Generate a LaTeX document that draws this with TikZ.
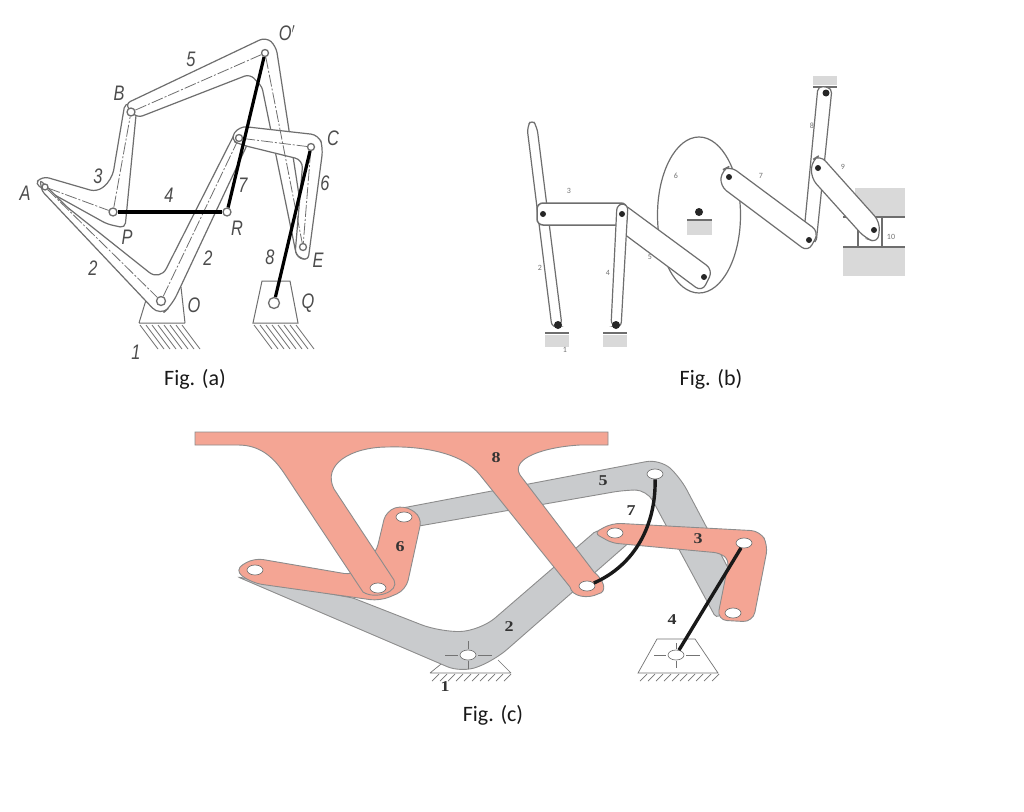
\documentclass[tikz,border=0pt]{standalone}
\usepackage{fontspec}
\setmainfont{Carlito}
\newfontfamily\skfont{Liberation Sans}
\newfontfamily\cfont{Liberation Serif}
\usepackage{xcolor}
\usepackage{tikz}
\usetikzlibrary{shapes.geometric}
\definecolor{linkgray}{HTML}{C9CBCD}
\definecolor{linksalmon}{HTML}{F4A594}
\definecolor{edgegray}{HTML}{6E6E6E}
\tikzstyle{linka} = [draw=edgegray, fill=white, line width=1.2pt, line join=round]
\tikzstyle{center} = [draw=edgegray, line width=0.8pt, dash pattern=on 12pt off 2pt on 2pt off 2pt]
\tikzstyle{pina} = [circle, draw=edgegray, fill=white, line width=1.3pt, minimum size=8pt, inner sep=0pt]
\tikzstyle{bar} = [black, line width=3.2pt]
\tikzstyle{ground} = [draw=edgegray, line width=1pt]
\tikzstyle{alabel} = [text=black!70, font=\skfont\itshape\fontsize{21}{21}\selectfont, inner sep=0pt, xscale=0.78]
\tikzstyle{caption} = [text=black!90, font=\fontsize{22}{22}\selectfont, inner sep=0pt]
\tikzstyle{linkb} = [draw=edgegray, fill=white, line width=1.2pt, rounded corners=6pt]
\tikzstyle{pinb} = [circle, fill=black!85, minimum size=6pt, inner sep=0pt]
\tikzstyle{blabel} = [text=black!55, font=\fontsize{8}{8}\selectfont, inner sep=0pt]
\tikzstyle{block} = [fill=black!15]
\tikzstyle{linkgrey} = [draw=black!45, fill=linkgray, line width=0.9pt]
\tikzstyle{linkred} = [draw=black!45, fill=linksalmon, line width=0.9pt]
\tikzstyle{pinc} = [ellipse, draw=black!60, fill=white, line width=0.6pt, minimum width=16pt, minimum height=10pt, inner sep=0pt]
\tikzstyle{clabel} = [text=black!80, font=\cfont\bfseries\fontsize{15}{15}\selectfont, inner sep=0pt, xscale=1.2]
\tikzstyle{cross} = [draw=black!55, line width=0.7pt]

\begin{document}
\begin{tikzpicture}[x=1pt,y=-1pt]
\useasboundingbox [fill=white] (0,0) rectangle (1024,811);

% Fig. (a)
\draw [ground] (139,323) -- (146,300) (181,287) -- (185,323) (139,323) -- (185,323);
\draw [ground] (253,323) -- (262,281) -- (290,281) -- (298,323) -- cycle;
\foreach \x in {140,146,...,184} {\draw [ground, line width=0.8pt] (\x,325) -- ++(18,24);}
\foreach \x in {254,260,...,298} {\draw [ground, line width=0.8pt] (\x,325) -- ++(18,24);}

\draw [linka, rounded corners=7pt] (35,184) -- (42,176) -- (97,192) [rounded corners=10pt] -- (112,180) [rounded corners=5pt] -- (125,103) -- (137,105) -- (125,228) -- (107,224) -- cycle;
\draw [linka] (42,191) [rounded corners=11pt] -- (160,316) -- (172,305) [rounded corners=5pt] -- (248,143) -- (240,128) -- (235,133) [rounded corners=14pt] -- (160,281) [rounded corners=3pt] -- (67,207) -- (40,180) -- cycle;
\draw [linka, rounded corners=7pt] (125,104) -- (266,37) -- (276,46) [rounded corners=6pt] -- (309,260) -- (297,258) [rounded corners=3pt] -- (262,87) [rounded corners=6pt] -- (250,74) -- (137,118) -- cycle;
\draw [linka, rounded corners=8pt] (230,140) -- (239,126) -- (319,135) -- (323,148) [rounded corners=6pt] -- (308,261) -- (295,255) [rounded corners=8pt] -- (303,160) -- (242,145) -- cycle;

\node (a_A) [pina, minimum size=6pt] at (45,187) {};
\node (a_P) [pina] at (113,212) {};
\node (a_B) [pina] at (131,112) {};
\node (a_R) [pina] at (227,212) {};
\node (a_S) [pina, minimum size=7pt] at (239,138) {};
\node (a_Op) [pina, minimum size=7pt] at (265,53) {};
\node (a_C) [pina, minimum size=7pt] at (311,147) {};
\node (a_E) [pina, minimum size=7pt] at (303,247) {};
\node (a_O) [pina, minimum size=9pt] at (161,301) {};
\node (a_Q) [pina, minimum size=11pt] at (274,303) {};

\draw [center] (a_A) -- (a_O);
\draw [center] (a_O) -- (a_S);
\draw [center] (a_A) -- (a_P);
\draw [center] (a_P) -- (a_B);
\draw [center] (a_B) -- (a_Op);
\draw [center] (a_Op) -- (a_E);
\draw [center] (a_S) -- (a_C);
\draw [center] (a_C) -- (a_E);

\draw [bar] (a_P) -- (a_R);
\draw [bar] (a_R) -- (a_Op);
\draw [bar] (a_C) -- (a_Q);

\node (a_lA) [alabel] at (25,193) {A};
\node (a_lB) [alabel] at (119,93) {B};
\node (a_lOp) [alabel] at (287,33) {O$'$};
\node (a_lC) [alabel] at (333,138) {C};
\node (a_l5) [alabel] at (191,59) {5};
\node (a_l3) [alabel] at (98,176) {3};
\node (a_l4) [alabel] at (169,195) {4};
\node (a_l7) [alabel] at (243,185) {7};
\node (a_l6) [alabel] at (325,183) {6};
\node (a_lP) [alabel] at (127,237) {P};
\node (a_lR) [alabel] at (237,228) {R};
\node (a_l2) [alabel] at (93,268) {2};
\node (a_l2b) [alabel] at (208,258) {2};
\node (a_l8) [alabel] at (270,257) {8};
\node (a_lE) [alabel] at (318,260) {E};
\node (a_lO) [alabel] at (194,305) {O};
\node (a_lQ) [alabel] at (308,303) {Q};
\node (a_l1) [alabel] at (136,352) {1};
\node (a_cap) [caption] at (195,379) {Fig. (a)};

% Fig. (b)
\draw [draw=edgegray, fill=white, line width=1.2pt] (699,215) ellipse (41.5pt and 78pt);
\fill [block] (545,335) rectangle (569,347);
\fill [block] (603,335) rectangle (627,347);
\fill [block] (813,76) rectangle (837,85);
\fill [block] (687,221) rectangle (712,235);
\fill [block] (855,188) rectangle (905,216);
\fill [block] (843,248) rectangle (905,276);
\draw [ground, line width=1.5pt] (545,333) -- (569,333);
\draw [ground, line width=1.5pt] (603,333) -- (627,333);
\draw [ground, line width=1.5pt] (813,87) -- (837,87);
\draw [ground, line width=1.5pt] (687,220) -- (712,220);
\draw [ground, line width=1.5pt] (843,217) -- (905,217);
\draw [ground, line width=1.5pt] (843,247) -- (905,247);
\draw [ground, line width=1.2pt] (858,217) -- (858,247);
\draw [ground, line width=1.2pt] (882,217) -- (882,247);

\draw [linkb, rounded corners=8pt] (622,203) -- (713,270) -- (702,292) -- (616,228) -- cycle;
\draw [linkb] (527,127) -- (532,119) -- (537,127) -- (562,326) -- (552,328) -- cycle;
\draw [linkb, line width=1.5pt] (537,203) rectangle (627,225);
\draw [linkb] (611,326) -- (617,204) -- (628,204) -- (621,328) -- cycle;
\draw [linkb, rounded corners=5pt] (818,86) -- (832,88) -- (816,244) -- (804,232) -- cycle;
\draw [linkb, rounded corners=8pt] (730,166) -- (819,232) -- (808,252) -- (720,186) -- (722,170) -- cycle;
\draw [linkb, rounded corners=8pt] (820,155) -- (880,222) -- (878,243) -- (865,238) -- (811,178) -- (812,160) -- cycle;

\node (b_A) [pinb] at (543,214) {};
\node (b_B) [pinb] at (622,214) {};
\node (b_C) [pinb] at (704,277) {};
\node (b_D) [pinb] at (729,177) {};
\node (b_E) [pinb] at (809,240) {};
\node (b_F) [pinb] at (818,168) {};
\node (b_G) [pinb] at (874,230) {};
\node (b_H) [pinb, minimum size=8pt] at (558,325) {};
\node (b_I) [pinb, minimum size=8pt] at (616,325) {};
\node (b_J) [pinb, minimum size=8pt] at (699,212) {};
\node (b_K) [pinb, minimum size=7pt] at (826,93) {};

\node (b_l3) [blabel] at (569,191) {3};
\node (b_l2) [blabel] at (540,268) {2};
\node (b_l4) [blabel] at (608,273) {4};
\node (b_l5) [blabel] at (650,257) {5};
\node (b_l6) [blabel] at (676,176) {6};
\node (b_l7) [blabel] at (761,176) {7};
\node (b_l8) [blabel] at (812,126) {8};
\node (b_l9) [blabel] at (843,167) {9};
\node (b_l10) [blabel] at (891,237) {10};
\node (b_l1) [blabel] at (565,350) {1};
\node (b_cap) [caption] at (711,379) {Fig. (b)};

% Fig. (c)
\draw [cross] (430,673) -- (446,660) (511,673) -- (498,660) (430,673) -- (511,673);
\draw [cross] (638,673) -- (657,639) -- (695,639) -- (718,673) -- cycle;
\foreach \x in {432,440,...,504} {\draw [cross] (\x,681) -- ++(7,-7);}
\foreach \x in {640,648,...,712} {\draw [cross] (\x,681) -- ++(7,-7);}

\draw [linkgrey] (238,577) [rounded corners=16pt] -- (462,673) -- (495,660) [rounded corners=4pt] -- (632,540) -- (597,530) [rounded corners=20pt] -- (480,631) -- (440,632) [rounded corners=2pt] -- (353,598) -- cycle;
\draw [linkgrey] (397,509) [rounded corners=14pt] -- (660,459) -- (680,477) [rounded corners=4pt] -- (745,600) -- (716,618) [rounded corners=12pt] -- (647,490) -- (625,490) [rounded corners=2pt] -- (419,526) -- cycle;

\draw [linkred, rounded corners=9pt] (594,533) -- (612,523) -- (760,531) -- (768,545) [rounded corners=10pt] -- (753,622) -- (717,620) [rounded corners=6pt] -- (729,560) -- (720,553) -- (612,543) -- cycle;
\draw [linkred, rounded corners=9pt] (234,570) -- (254,558) -- (353,575) -- (376,553) -- (386,511) -- (404,505) -- (422,517) [rounded corners=10pt] -- (406,590) -- (380,601) -- (252,583) -- cycle;
\draw [linkred] (195,432) -- (608,432) -- (608,445) -- (580,445) .. controls (545,447) and (510,458) .. (520,475) -- (594,572) .. controls (604,580) and (608,592) .. (598,594) .. controls (588,599) and (572,597) .. (570,587) -- (480,475) .. controls (462,452) and (420,446) .. (388,447) .. controls (350,447) and (322,465) .. (334,489) -- (394,580) .. controls (400,592) and (375,600) .. (363,592) -- (284,473) .. controls (272,455) and (258,445) .. (238,445) -- (195,445) -- cycle;

\node (c_L) [pinc] at (255,570) {};
\node (c_M) [pinc] at (378,588) {};
\node (c_N) [pinc] at (404,517) {};
\node (c_X) [pinc] at (587,586) {};
\node (c_Y) [pinc] at (655,474) {};
\node (c_T) [pinc] at (615,533) {};
\node (c_U) [pinc] at (744,543) {};
\node (c_V) [pinc] at (733,613) {};
\node (c_O) [pinc] at (468,655) {};
\node (c_Q) [pinc] at (676,655) {};

\draw [cross] (445,655) -- (458,655) (478,655) -- (492,655) (468,641) -- (468,649) (468,661) -- (468,669);
\draw [cross] (654,655) -- (666,655) (686,655) -- (700,655) (676,643) -- (676,649) (676,661) -- (676,668);

\draw [black!90, line width=3.4pt] (c_Y) .. controls (656,525) and (635,565) .. (c_X);
\draw [black!90, line width=3.4pt] (c_U) -- (c_Q);

\node (c_l8) [clabel] at (496,458) {8};
\node (c_l5) [clabel] at (603,481) {5};
\node (c_l7) [clabel] at (631,511) {7};
\node (c_l3) [clabel] at (698,539) {3};
\node (c_l6) [clabel] at (400,547) {6};
\node (c_l2) [clabel] at (509,627) {2};
\node (c_l4) [clabel] at (672,620) {4};
\node (c_l1) [clabel] at (445,687) {1};
\node (c_cap) [caption] at (493,715) {Fig. (c)};

\end{tikzpicture}
\end{document}
